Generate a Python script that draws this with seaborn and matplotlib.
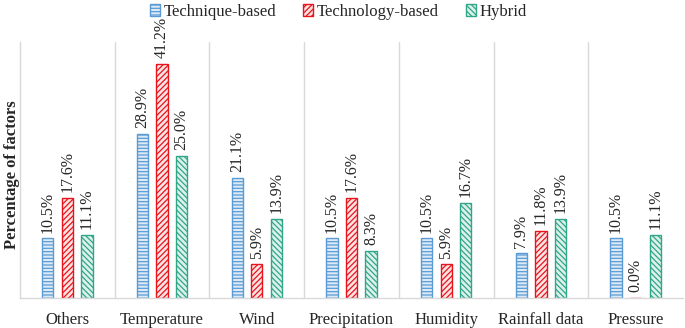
import pandas as pd
import numpy as np
import seaborn as sns
import matplotlib.pyplot as plt

# values (percent)
categories = ["Others", "Temperature", "Wind", "Precipitation", "Humidity", "Rainfall data", "Pressure"]
technique = [10.5, 28.9, 21.1, 10.5, 10.5, 7.9, 10.5]
technology = [17.6, 41.2, 5.9, 17.6, 5.9, 11.8, 0.0]
hybrid = [11.1, 25.0, 13.9, 8.3, 16.7, 13.9, 11.1]
methods = ["Technique-based", "Technology-based", "Hybrid"]

data = pd.DataFrame({
    "category": categories * 3,
    "method": np.repeat(methods, len(categories)),
    "value": technique + technology + hybrid,
})

sns.set_style("white")
plt.rcParams["font.family"] = ["Liberation Serif", "DejaVu Serif"]
plt.rcParams["hatch.linewidth"] = 0.9

fig = plt.figure(figsize=(6.85, 3.28), dpi=100)
ax = fig.add_axes([20 / 685, 30 / 328, 663 / 685, 256 / 328])

sns.barplot(data=data, x="category", y="value", hue="method", order=categories,
            hue_order=methods, width=0.62, gap=0.42, ax=ax, legend=False)

styles = [
    dict(face="#DCEAF6", edge="#5B9BD5", hatch="-----"),
    dict(face="#FBE3E3", edge="#E8141C", hatch="//////"),
    dict(face="#DDF1EA", edge="#2FA58A", hatch="\\\\\\\\\\\\"),
]
for cont, st, vals in zip(ax.containers, styles, [technique, technology, hybrid]):
    for bar in cont:
        bar.set_facecolor(st["face"])
        bar.set_edgecolor(st["edge"])
        bar.set_hatch(st["hatch"])
        bar.set_linewidth(1.0)
    ax.bar_label(cont, labels=[f"{v:.1f}%" for v in vals], rotation=90,
                 padding=4, fontsize=11.5)

ax.set_ylim(0, 45)
ax.set_xlim(-0.5, len(categories) - 0.5)
for x in np.arange(0.5, len(categories) - 0.5, 1):
    ax.axvline(x, color="#D9D9D9", lw=1, zorder=0)
ax.set_yticks([])
ax.set_xlabel("")
ax.set_ylabel("")
ax.tick_params(axis="x", labelsize=12, length=0, pad=10)
for side in ["top", "right"]:
    ax.spines[side].set_visible(False)
for side in ["left", "bottom"]:
    ax.spines[side].set_color("#D9D9D9")
    ax.spines[side].set_linewidth(1)

fig.text(12 / 685, 1 - 175 / 328, "Percentage of factors", rotation=90, fontsize=12,
         fontweight="bold", ha="center", va="center")

handles = [plt.Rectangle((0, 0), 1, 1, facecolor=s["face"], edgecolor=s["edge"],
                         hatch=s["hatch"]) for s in styles]
fig.legend(handles, methods, loc="upper center", bbox_to_anchor=(0.494, 1.035), ncol=3,
           frameon=False, fontsize=12, handlelength=0.6, handleheight=0.7,
           handletextpad=0.25, columnspacing=1.6)

plt.savefig("out.png", dpi=100)
